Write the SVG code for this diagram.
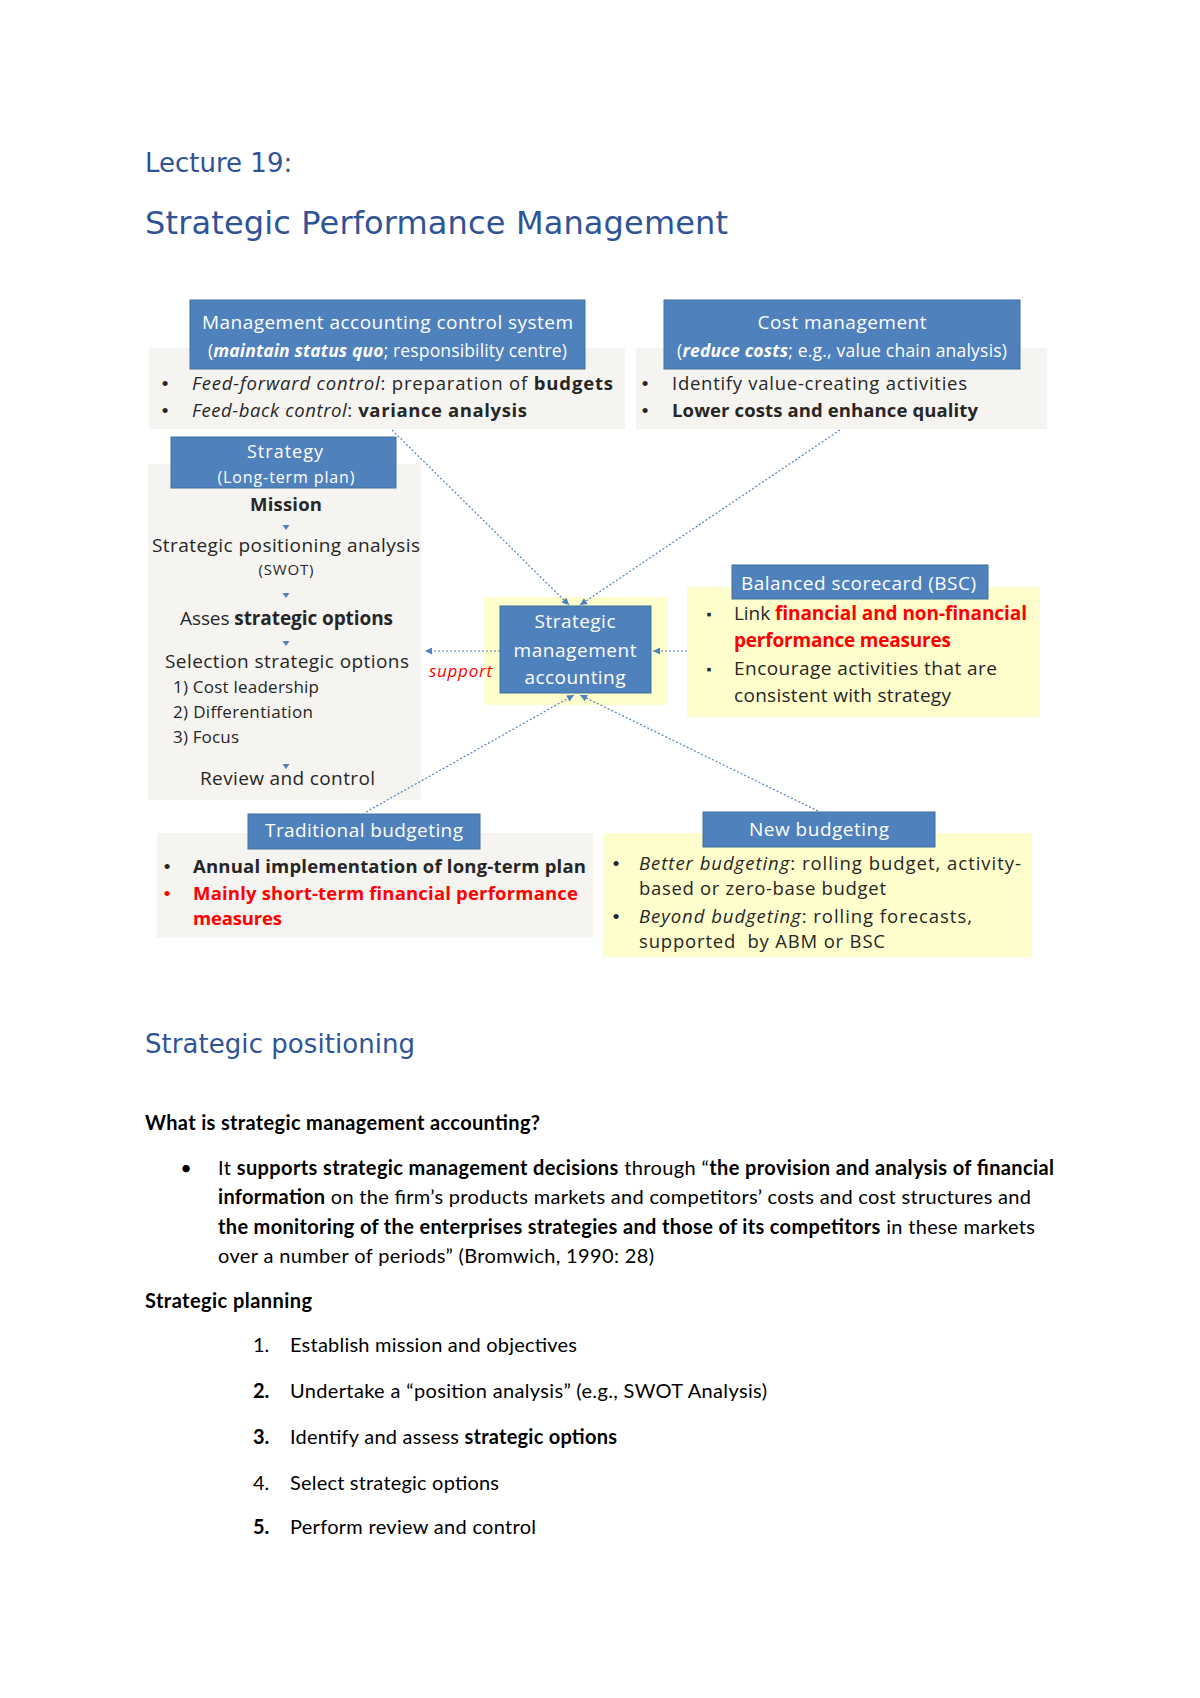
<svg xmlns="http://www.w3.org/2000/svg" width="1200" height="1698" viewBox="0 0 1200 1698">
<style>
.h{font-family:"DejaVu Sans",sans-serif;fill:#2F5496}
.d{font-family:"Open Sans","Liberation Sans",sans-serif;fill:#262626}
.bu{font-family:"Liberation Sans",sans-serif;font-size:19px;text-anchor:middle;fill:#262626}
.w{fill:#ffffff}
.b{font-weight:bold}
.i{font-style:italic}
.r{fill:#FF0000}
.c{text-anchor:middle}
.t{font-family:Lato,"Liberation Sans",sans-serif;fill:#000000;font-size:20px}
.blue{fill:#4F81BD;stroke:#41719C;stroke-width:1}
.gray{fill:#F5F4F0}
.yel{fill:#FEFECC}
.conn{stroke:#4F81BD;stroke-width:1.2;stroke-dasharray:2 2;fill:none;marker-end:url(#ah)}
.tri{fill:#4F81BD}
</style>
<defs>
<marker id="ah" viewBox="0 0 10 10" refX="10" refY="5" markerWidth="8" markerHeight="7" markerUnits="userSpaceOnUse" orient="auto">
<path d="M0,0 L10,5 L0,10 z" fill="#4F81BD"/>
</marker>
</defs>
<rect width="1200" height="1698" fill="#ffffff"/>

<text class="h" x="145" y="172" font-size="26">Lecture 19:</text>
<text class="h" x="145" y="234" font-size="32" textLength="583">Strategic Performance Management</text>

<g id="macs">
<rect class="gray" x="149" y="348" width="476" height="81"/>
<rect class="blue" x="190" y="300" width="395" height="69"/>
<text class="d w c" x="387.5" y="329" font-size="19" textLength="371">Management accounting control system</text>
<text class="d w c" x="387.5" y="357" font-size="17.5" textLength="359">(<tspan class="b i">maintain status quo</tspan>; responsibility centre)</text>
<text class="bu" x="165" y="390">•</text>
<text class="d" x="192" y="390" font-size="18.5" textLength="421"><tspan class="i">Feed-forward control</tspan>: preparation of <tspan class="b">budgets</tspan></text>
<text class="bu" x="165" y="417">•</text>
<text class="d" x="192" y="417" font-size="18.5" textLength="335"><tspan class="i">Feed-back control</tspan>: <tspan class="b">variance analysis</tspan></text>
</g>

<g id="cost">
<rect class="gray" x="636" y="348" width="411" height="81"/>
<rect class="blue" x="664" y="300" width="356" height="69"/>
<text class="d w c" x="842" y="329" font-size="19" textLength="169">Cost management</text>
<text class="d w c" x="842" y="357" font-size="17.5" textLength="330">(<tspan class="b i">reduce costs</tspan>; e.g., value chain analysis)</text>
<text class="bu" x="645" y="390">•</text>
<text class="d" x="672" y="390" font-size="18.5" textLength="295">Identify value-creating activities</text>
<text class="bu" x="645" y="417">•</text>
<text class="d b" x="672" y="417" font-size="18.5" textLength="306">Lower costs and enhance quality</text>
</g>

<g id="strategy">
<rect class="gray" x="148" y="464" width="273" height="336"/>
<rect class="blue" x="171" y="437" width="225" height="51"/>
<text class="d w c" x="285" y="458" font-size="18" textLength="76">Strategy</text>
<text class="d w c" x="286" y="483" font-size="16" textLength="137">(Long-term plan)</text>
<text class="d b c" x="286" y="511" font-size="18.5" textLength="72">Mission</text>
<path class="tri" d="M282.5,525 L289.5,525 L286,530 z"/>
<text class="d c" x="286" y="552" font-size="19" textLength="268">Strategic positioning analysis</text>
<text class="d c" x="286" y="575" font-size="15" textLength="55">(SWOT)</text>
<path class="tri" d="M282.5,593 L289.5,593 L286,598 z"/>
<text class="d c" x="286.5" y="625" font-size="19" textLength="213">Asses <tspan class="b">strategic options</tspan></text>
<path class="tri" d="M282.5,641 L289.5,641 L286,646 z"/>
<text class="d" x="165" y="668" font-size="19" textLength="244">Selection strategic options</text>
<text class="d" x="173" y="693" font-size="17" textLength="146">1) Cost leadership</text>
<text class="d" x="173" y="718" font-size="17" textLength="140">2) Differentiation</text>
<text class="d" x="173" y="743" font-size="17" textLength="66">3) Focus</text>
<path class="tri" d="M282.5,764 L289.5,764 L286,769 z"/>
<text class="d c" x="287.5" y="785" font-size="19" textLength="175">Review and control</text>
</g>

<g id="sma">
<rect class="yel" x="484" y="597" width="184" height="108"/>
<rect class="blue" x="500" y="606" width="151" height="87"/>
<text class="d w c" x="575" y="628" font-size="19" textLength="81">Strategic</text>
<text class="d w c" x="575" y="657" font-size="19" textLength="123">management</text>
<text class="d w c" x="575" y="684" font-size="19" textLength="101">accounting</text>
</g>

<g id="support-label">
<text class="d i r" x="429" y="677" font-size="17" textLength="63">support</text>
</g>

<g id="bsc">
<rect class="yel" x="687" y="587" width="353" height="130"/>
<rect class="blue" x="732" y="565" width="256" height="34"/>
<text class="d w c" x="858.5" y="590" font-size="19" textLength="235">Balanced scorecard (BSC)</text>
<text class="d" x="709" y="619" font-size="14" text-anchor="middle">▪</text>
<text class="d" x="734" y="620" font-size="19" textLength="293">Link <tspan class="b r">financial and non-financial</tspan></text>
<text class="d b r" x="734" y="647" font-size="19" textLength="217">performance measures</text>
<text class="d" x="709" y="674" font-size="14" text-anchor="middle">▪</text>
<text class="d" x="734" y="675" font-size="19" textLength="263">Encourage activities that are</text>
<text class="d" x="734" y="702" font-size="19" textLength="217">consistent with strategy</text>
</g>

<g id="traditional">
<rect class="gray" x="157" y="833" width="436" height="105"/>
<rect class="blue" x="248" y="814" width="232" height="35"/>
<text class="d w c" x="364" y="837" font-size="19" textLength="198">Traditional budgeting</text>
<text class="bu" x="167" y="873">•</text>
<text class="d b" x="193" y="873" font-size="18.5" textLength="393">Annual implementation of long-term plan</text>
<text class="bu r" x="167" y="900">•</text>
<text class="d b r" x="193" y="900" font-size="18.5" textLength="385">Mainly short-term financial performance</text>
<text class="d b r" x="193" y="925" font-size="18.5" textLength="89">measures</text>
</g>

<g id="new">
<rect class="yel" x="603" y="833" width="429" height="124"/>
<rect class="blue" x="703" y="812" width="232" height="35"/>
<text class="d w c" x="819" y="836" font-size="19" textLength="140">New budgeting</text>
<text class="bu" x="616" y="870">•</text>
<text class="d" x="639" y="870" font-size="18.5" textLength="382"><tspan class="i">Better budgeting</tspan>: rolling budget, activity-</text>
<text class="d" x="639" y="895" font-size="18.5" textLength="247">based or zero-base budget</text>
<text class="bu" x="616" y="923">•</text>
<text class="d" x="639" y="923" font-size="18.5" textLength="333"><tspan class="i">Beyond budgeting</tspan>: rolling forecasts,</text>
<text class="d" x="639" y="948" font-size="18.5" textLength="246" xml:space="preserve">supported  by ABM or BSC</text>
</g>

<g id="connectors">
<line class="conn" x1="392" y1="430" x2="569" y2="605"/>
<line class="conn" x1="840" y1="430" x2="580" y2="605"/>
<line class="conn" x1="366" y1="812" x2="574" y2="695"/>
<line class="conn" x1="818" y1="811" x2="580" y2="695"/>
<line class="conn" x1="500" y1="651" x2="425" y2="651"/>
<line class="conn" x1="687" y1="651" x2="653" y2="651"/>
</g>

<text class="h" x="145" y="1053" font-size="26" textLength="270">Strategic positioning</text>

<text class="t b" x="145" y="1130" textLength="395">What is strategic management accounting?</text>
<text class="t" x="186" y="1175" text-anchor="middle">•</text>
<text class="t" x="218" y="1175" textLength="836">It <tspan class="b">supports strategic management decisions</tspan> through “<tspan class="b">the provision and analysis of financial</tspan></text>
<text class="t" x="218" y="1204" textLength="813"><tspan class="b">information</tspan> on the firm’s products markets and competitors’ costs and cost structures and</text>
<text class="t" x="218" y="1234" textLength="817"><tspan class="b">the monitoring of the enterprises strategies and those of its competitors</tspan> in these markets</text>
<text class="t" x="218" y="1263" textLength="436">over a number of periods” (Bromwich, 1990: 28)</text>

<text class="t b" x="145" y="1308" textLength="167">Strategic planning</text>

<text class="t" x="253" y="1352">1.</text>
<text class="t" x="290" y="1352" textLength="287">Establish mission and objectives</text>
<text class="t b" x="253" y="1398">2.</text>
<text class="t" x="290" y="1398" textLength="477">Undertake a “position analysis” (e.g., SWOT Analysis)</text>
<text class="t b" x="253" y="1444">3.</text>
<text class="t" x="290" y="1444" textLength="327">Identify and assess <tspan class="b">strategic options</tspan></text>
<text class="t" x="253" y="1490">4.</text>
<text class="t" x="290" y="1490" textLength="209">Select strategic options</text>
<text class="t b" x="253" y="1534">5.</text>
<text class="t" x="290" y="1534" textLength="246">Perform review and control</text>
</svg>
